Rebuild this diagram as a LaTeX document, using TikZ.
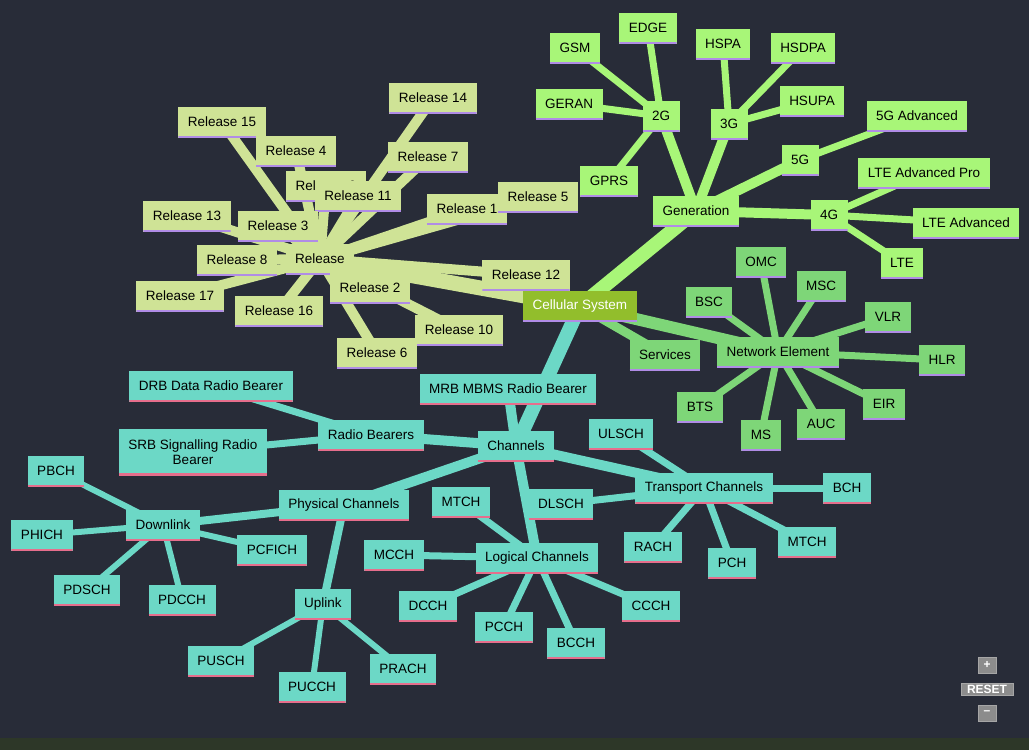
\documentclass[tikz,border=0pt]{standalone}
\usepackage{fontspec}
\setmainfont{Liberation Sans}
\pgfdeclarelayer{bg}\pgfdeclarelayer{edges}
\pgfsetlayers{bg,edges,main}
\definecolor{bgc}{RGB}{40,44,56}
\definecolor{relc}{RGB}{207,227,150}
\definecolor{genc}{RGB}{168,246,120}
\definecolor{netc}{RGB}{126,214,120}
\definecolor{tealc}{RGB}{108,216,198}
\definecolor{cellc}{RGB}{146,190,44}
\definecolor{purp}{RGB}{176,140,230}
\definecolor{pinkl}{RGB}{230,110,140}
\definecolor{btn}{RGB}{140,140,140}
\definecolor{strip}{RGB}{45,55,40}
\tikzset{
 nb/.style={rectangle,inner xsep=9.5pt,inner ysep=0pt,minimum height=31pt,font=\fontsize{13.5}{15}\selectfont,text=black,
   path picture={\draw[line width=4pt,#1](path picture bounding box.south west)--(path picture bounding box.south east);}},
 rel/.style={nb=purp,fill=relc},
 gen/.style={nb=purp,fill=genc},
 net/.style={nb=purp,fill=netc},
 tl/.style={nb=pinkl,fill=tealc},
 cs/.style={nb=purp,fill=cellc,text=white},
 e/.style={line width=#1},
 er/.style={e=#1,draw=relc},
 eg/.style={e=#1,draw=genc},
 en/.style={e=#1,draw=netc},
 et/.style={e=#1,draw=tealc},
 bt/.style={fill=btn,draw=gray!70,text=white,font=\bfseries\fontsize{12}{12}\selectfont,inner sep=2pt},
}
\begin{document}
\begin{tikzpicture}[x=1pt,y=-1pt]
\begin{pgfonlayer}{bg}
\fill[bgc] (0,0) rectangle (1029,750);
\fill[strip] (0,738) rectangle (1029,750);
\end{pgfonlayer}
% central
\node[cs] (cs) at (580,306) {Cellular System};
% generation
\node[gen] (gen) at (696,211) {Generation};
\node[gen] (g2) at (661,116) {2G};
\node[gen] (gsm) at (575,48) {GSM};
\node[gen] (edge) at (648,28) {EDGE};
\node[gen] (geran) at (569,104) {GERAN};
\node[gen] (gprs) at (609,181) {GPRS};
\node[gen] (g3) at (729,124) {3G};
\node[gen] (hspa) at (723,44) {HSPA};
\node[gen] (hsdpa) at (803,48) {HSDPA};
\node[gen] (hsupa) at (812,101) {HSUPA};
\node[gen] (g5) at (800,160) {5G};
\node[gen] (g5a) at (917,116) {5G Advanced};
\node[gen] (g4) at (829,215) {4G};
\node[gen] (ltep) at (924,173) {LTE Advanced Pro};
\node[gen] (ltea) at (966,223) {LTE Advanced};
\node[gen] (lte) at (902,263) {LTE};
% network
\node[net] (ne) at (778,352) {Network Element};
\node[net] (omc) at (761,262) {OMC};
\node[net] (msc) at (821,286) {MSC};
\node[net] (bsc) at (709,302) {BSC};
\node[net] (vlr) at (888,317) {VLR};
\node[net] (hlr) at (942,360) {HLR};
\node[net] (eir) at (884,404) {EIR};
\node[net] (auc) at (821,424) {AUC};
\node[net] (ms) at (761,435) {MS};
\node[net] (bts) at (700,407) {BTS};
\node[net] (srv) at (665,355) {Services};
% release
\node[rel] (r15) at (222,122) {Release 15};
\node[rel] (r4) at (296,151) {Release 4};
\node[rel] (r9) at (326,186) {Release 9};
\node[rel] (r11) at (358,196) {Release 11};
\node[rel] (r14) at (433,98) {Release 14};
\node[rel] (r7) at (428,157) {Release 7};
\node[rel] (r1) at (467,209) {Release 1};
\node[rel] (r5) at (538,197) {Release 5};
\node[rel] (r13) at (187,216) {Release 13};
\node[rel] (r3) at (278,226) {Release 3};
\node[rel] (r8) at (237,260) {Release 8};
\node[rel] (rel) at (320,259) {Release};
\node[rel] (r17) at (180,296) {Release 17};
\node[rel] (r16) at (279,311) {Release 16};
\node[rel] (r2) at (370,288) {Release 2};
\node[rel] (r12) at (526,275) {Release 12};
\node[rel] (r10) at (459,330) {Release 10};
\node[rel] (r6) at (377,353) {Release 6};
% channels
\node[tl] (ch) at (516,446) {Channels};
\node[tl] (mrb) at (508,389) {MRB MBMS Radio Bearer};
\node[tl] (rb) at (371,435) {Radio Bearers};
\node[tl] (drb) at (211,386) {DRB Data Radio Bearer};
\node[tl,align=center,minimum height=46pt,font=\fontsize{13.5}{15}\selectfont] (srb) at (193,452) {SRB Signalling Radio\\Bearer};
\node[tl] (tc) at (704,488) {Transport Channels};
\node[tl] (ul) at (621,434) {ULSCH};
\node[tl] (bch) at (847,488) {BCH};
\node[tl] (mtch) at (807,542) {MTCH};
\node[tl] (pch) at (732,563) {PCH};
\node[tl] (rach) at (653,547) {RACH};
\node[tl] (dl) at (561,504) {DLSCH};
\node[tl] (lc) at (537,558) {Logical Channels};
\node[tl] (mtch2) at (461,502) {MTCH};
\node[tl] (mcch) at (394,555) {MCCH};
\node[tl] (dcch) at (428,606) {DCCH};
\node[tl] (pcch) at (504,627) {PCCH};
\node[tl] (bcch) at (576,643) {BCCH};
\node[tl] (ccch) at (651,606) {CCCH};
\node[tl] (pc) at (344,505) {Physical Channels};
\node[tl] (dn) at (163,525) {Downlink};
\node[tl] (pbch) at (56,471) {PBCH};
\node[tl] (phich) at (42,535) {PHICH};
\node[tl] (pdsch) at (87,590) {PDSCH};
\node[tl] (pdcch) at (182,600) {PDCCH};
\node[tl] (pcfich) at (272,550) {PCFICH};
\node[tl] (up) at (323,604) {Uplink};
\node[tl] (pusch) at (221,661) {PUSCH};
\node[tl] (pucch) at (312,687) {PUCCH};
\node[tl] (prach) at (403,669) {PRACH};
% buttons
\node[bt,minimum width=18pt,minimum height=16pt] (plus) at (987,665) {+};
\node[bt,minimum width=52pt] (reset) at (987,689) {RESET};
\node[bt,minimum width=18pt,minimum height=16pt] (minus) at (987,713) {--};
\begin{pgfonlayer}{edges}
\draw[eg=14] (cs.center)--(gen.center);
\draw[eg=10] (gen.center)--(g2.center) (gen.center)--(g3.center) (gen.center)--(g5.center) (gen.center)--(g4.center);
\foreach \x in {gsm,edge,geran,gprs} \draw[eg=7] (g2.center)--(\x.center);
\foreach \x in {hspa,hsdpa,hsupa} \draw[eg=7] (g3.center)--(\x.center);
\draw[eg=7] (g5.center)--(g5a.center);
\foreach \x in {ltep,ltea,lte} \draw[eg=7] (g4.center)--(\x.center);
\draw[en=12] (cs.center)--(ne.center);
\draw[en=9] (cs.center)--(srv.center);
\foreach \x in {omc,msc,bsc,vlr,hlr,eir,auc,ms,bts} \draw[en=7] (ne.center)--(\x.center);
\draw[er=15] (cs.center)--(rel.center);
\foreach \x in {r1,r2,r3,r4,r5,r6,r7,r8,r9,r10,r11,r12,r13,r14,r15,r16,r17} \draw[er=10] (rel.center)--(\x.center);
\draw[et=14] (cs.center)--(ch.center);
\draw[et=10] (ch.center)--(mrb.center) (ch.center)--(rb.center) (ch.center)--(tc.center) (ch.center)--(lc.center) (ch.center)--(pc.center);
\draw[et=7] (rb.center)--(drb.center) (rb.center)--(srb.center);
\foreach \x in {ul,bch,mtch,pch,rach,dl} \draw[et=7] (tc.center)--(\x.center);
\foreach \x in {mtch2,mcch,dcch,pcch,bcch,ccch} \draw[et=7] (lc.center)--(\x.center);
\draw[et=8] (pc.center)--(dn.center) (pc.center)--(up.center);
\foreach \x in {pbch,phich,pdsch,pdcch,pcfich} \draw[et=6] (dn.center)--(\x.center);
\foreach \x in {pusch,pucch,prach} \draw[et=6] (up.center)--(\x.center);
\end{pgfonlayer}
\end{tikzpicture}
\end{document}
